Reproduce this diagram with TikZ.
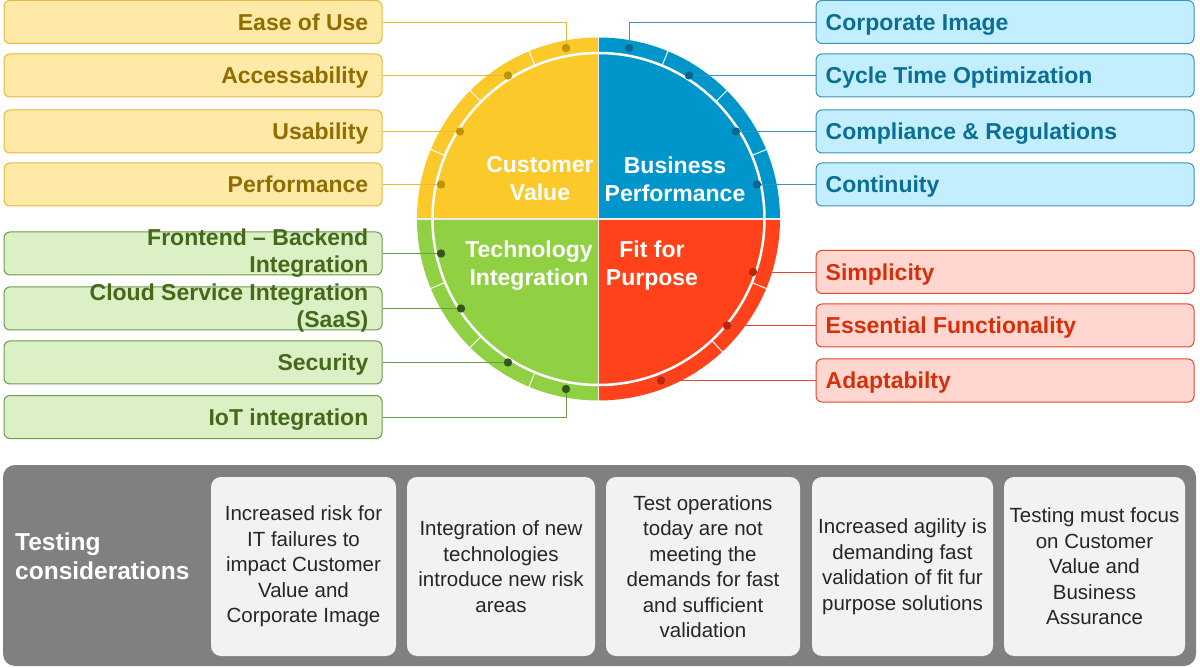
\documentclass[tikz,border=0pt]{standalone}
\usepackage{fontspec}
\setmainfont{Liberation Sans}
\usetikzlibrary{calc}
\definecolor{cyel}{HTML}{FCC92B}
\definecolor{cblue}{HTML}{0096CB}
\definecolor{cgreen}{HTML}{8FD142}
\definecolor{cred}{HTML}{FF421A}
\definecolor{yfill}{HTML}{FFE9A6}
\definecolor{yline}{HTML}{E8B935}
\definecolor{ytext}{HTML}{8F6D00}
\definecolor{ydot}{HTML}{C09208}
\definecolor{bfill}{HTML}{C2EEFD}
\definecolor{bline}{HTML}{3A93BA}
\definecolor{btext}{HTML}{0B6F94}
\definecolor{bdot}{HTML}{0A6690}
\definecolor{gfill}{HTML}{DBF0C5}
\definecolor{gline}{HTML}{6F9A4C}
\definecolor{gtext}{HTML}{44691B}
\definecolor{gdot}{HTML}{34561A}
\definecolor{rfill}{HTML}{FFD7D0}
\definecolor{rline}{HTML}{E4472B}
\definecolor{rtext}{HTML}{D6300A}
\definecolor{rdot}{HTML}{B8260B}
\definecolor{panel}{HTML}{808080}
\definecolor{tboxfill}{HTML}{F2F2F2}
\definecolor{tdark}{HTML}{262626}
\begin{document}
\begin{tikzpicture}[x=1pt,y=-1pt,
  box/.style={draw, rounded corners=6pt, line width=1pt, minimum width=378pt, minimum height=43pt, inner sep=0pt},
  ybox/.style={box, draw=yline, fill=yfill},
  bbox/.style={box, draw=bline, fill=bfill},
  gbox/.style={box, draw=gline, fill=gfill},
  rbox/.style={box, draw=rline, fill=rfill},
  lab/.style={font=\fontsize{23}{27}\selectfont\bfseries, inner sep=0pt},
  ltxt/.style={lab, anchor=east, align=right, xshift=-14pt},
  rtxt/.style={lab, anchor=west, align=left, xshift=10pt},
  oneline/.style={text height=16.5pt, text depth=0pt},
  qlab/.style={font=\fontsize{23}{28}\selectfont\bfseries, text=white, align=center, inner sep=0pt},
  conn/.style={line width=0.9pt},
  tbox/.style={fill=tboxfill, rounded corners=10pt, minimum height=179pt, align=center, inner sep=0pt, text=tdark, font=\fontsize{20.5}{25.5}\selectfont},
  tick/.style={white, line width=1pt}
]
\useasboundingbox (0,0) rectangle (1200,668);

% ---------- circle ----------
\coordinate (C) at (598.5,219);
\fill[cyel] (C) -- ++(180:181.5pt) arc[start angle=180,end angle=90,radius=181.5pt] -- cycle;
\fill[cblue] (C) -- ++(90:181.5pt) arc[start angle=90,end angle=0,radius=181.5pt] -- cycle;
\fill[cred] (C) -- ++(0:181.5pt) arc[start angle=0,end angle=-90,radius=181.5pt] -- cycle;
\fill[cgreen] (C) -- ++(-90:181.5pt) arc[start angle=-90,end angle=-180,radius=181.5pt] -- cycle;
\foreach \a in {112.5,135,157.5,67.5,45,22.5,202.5,225,247.5,-22.5,-47}
  \draw[tick] (C) ++(\a:165pt) -- ++(\a:18pt);
\draw[white, line width=2.5pt] (C) circle (166pt);
\draw[white!85!gray, line width=1.2pt] ($(C)+(90:181.5pt)$) -- ($(C)+(-90:181.5pt)$);
\draw[white!85!gray, line width=1.2pt] ($(C)+(180:181.5pt)$) -- ($(C)+(0:181.5pt)$);

\node[qlab] (qcv) at (540,179) {Customer\\Value};
\node[qlab] (qbp) at (675,179) {Business\\Performance};
\node[qlab] (qti) at (529,266) {Technology\\Integration};
\node[qlab] (qfp) at (652,266) {Fit for\\Purpose};

% ---------- left boxes ----------
\node[ybox] (y1) at (193,22) {};
\node[ybox] (y2) at (193,75.5) {};
\node[ybox] (y3) at (193,131.5) {};
\node[ybox] (y4) at (193,184.5) {};
\node[ltxt, oneline, text=ytext] (ty1) at (y1.east) {Ease of Use};
\node[ltxt, oneline, text=ytext] (ty2) at (y2.east) {Accessability};
\node[ltxt, oneline, text=ytext] (ty3) at (y3.east) {Usability};
\node[ltxt, oneline, text=ytext] (ty4) at (y4.east) {Performance};

\node[gbox] (g1) at (193,253.5) {};
\node[gbox] (g2) at (193,308.5) {};
\node[gbox] (g3) at (193,362.5) {};
\node[gbox] (g4) at (193,417) {};
\node[ltxt, text=gtext] (tg1) at (g1.east) {Frontend – Backend\\Integration};
\node[ltxt, text=gtext] (tg2) at (g2.east) {Cloud Service Integration\\(SaaS)};
\node[ltxt, oneline, text=gtext] (tg3) at (g3.east) {Security};
\node[ltxt, oneline, text=gtext] (tg4) at (g4.east) {IoT integration};

% ---------- right boxes ----------
\node[bbox] (b1) at (1005,22) {};
\node[bbox] (b2) at (1005,75.5) {};
\node[bbox] (b3) at (1005,131.5) {};
\node[bbox] (b4) at (1005,184.5) {};
\node[rtxt, oneline, text=btext] (tb1) at (b1.west) {Corporate Image};
\node[rtxt, oneline, text=btext] (tb2) at (b2.west) {Cycle Time Optimization};
\node[rtxt, oneline, text=btext] (tb3) at (b3.west) {Compliance \& Regulations};
\node[rtxt, oneline, text=btext] (tb4) at (b4.west) {Continuity};

\node[rbox] (r1) at (1005,272) {};
\node[rbox] (r2) at (1005,325.5) {};
\node[rbox] (r3) at (1005,380.5) {};
\node[rtxt, oneline, text=rtext] (tr1) at (r1.west) {Simplicity};
\node[rtxt, oneline, text=rtext] (tr2) at (r2.west) {Essential Functionality};
\node[rtxt, oneline, text=rtext] (tr3) at (r3.west) {Adaptabilty};

% ---------- dots ----------
\coordinate (dy1) at (566,48);
\coordinate (dy2) at (508,75.5);
\coordinate (dy3) at (460,131.5);
\coordinate (dy4) at (441,184.5);
\coordinate (db1) at (629,48);
\coordinate (db2) at (689,75.5);
\coordinate (db3) at (736,131.5);
\coordinate (db4) at (757,184.5);
\coordinate (dg1) at (441,253.5);
\coordinate (dg2) at (461,308.5);
\coordinate (dg3) at (508,362.5);
\coordinate (dg4) at (566,389);
\coordinate (dr1) at (753,272);
\coordinate (dr2) at (727,325.5);
\coordinate (dr3) at (661,380.5);

% ---------- connectors ----------
\draw[conn, yline] (y1.east) -| (dy1);
\draw[conn, yline] (y2.east) -- (dy2);
\draw[conn, yline] (y3.east) -- (dy3);
\draw[conn, yline] (y4.east) -- (dy4);
\draw[conn, bline] (b1.west) -| (db1);
\draw[conn, bline] (b2.west) -- (db2);
\draw[conn, bline] (b3.west) -- (db3);
\draw[conn, bline] (b4.west) -- (db4);
\draw[conn, gline] (g1.east) -- (dg1);
\draw[conn, gline] (g2.east) -- (dg2);
\draw[conn, gline] (g3.east) -- (dg3);
\draw[conn, gline] (g4.east) -| (dg4);
\draw[conn, rline] (r1.west) -- (dr1);
\draw[conn, rline] (r2.west) -- (dr2);
\draw[conn, rline] (r3.west) -- (dr3);

\foreach \d in {dy1,dy2,dy3,dy4} \fill[ydot] (\d) circle (4.2pt);
\foreach \d in {db1,db2,db3,db4} \fill[bdot] (\d) circle (4.2pt);
\foreach \d in {dg1,dg2,dg3,dg4} \fill[gdot] (\d) circle (4.2pt);
\foreach \d in {dr1,dr2,dr3} \fill[rdot] (\d) circle (4.2pt);

% ---------- bottom panel ----------
\fill[panel, rounded corners=12pt] (3,465) rectangle (1196,666);
\node[font=\fontsize{24.5}{29}\selectfont\bfseries, text=white, align=left, anchor=west, inner sep=0pt] (tc) at (15,556) {Testing\\considerations};
\node[tbox, minimum width=185pt] (k1) at (303.5,566.5) {Increased risk for\\IT failures to\\impact Customer\\Value and\\Corporate Image};
\node[tbox, minimum width=188pt] (k2) at (501,566.5) {Integration of new\\technologies\\introduce new risk\\areas};
\node[tbox, minimum width=194pt] (k3) at (703,566.5) {Test operations\\today are not\\meeting the\\demands for fast\\and sufficient\\validation};
\node[tbox, minimum width=181pt] (k4) at (902.5,566.5) {Increased agility is\\demanding fast\\validation of fit fur\\purpose solutions};
\node[tbox, minimum width=181pt] (k5) at (1094.5,566.5) {Testing must focus\\on Customer\\Value and\\Business\\Assurance};
\end{tikzpicture}
\end{document}
